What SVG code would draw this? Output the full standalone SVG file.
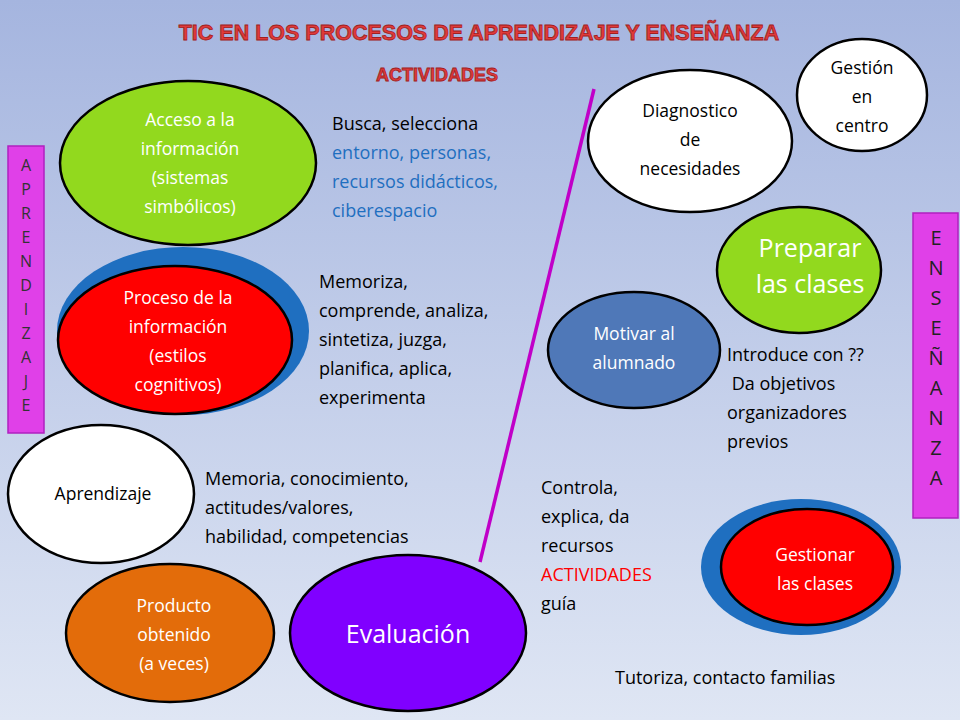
<svg xmlns="http://www.w3.org/2000/svg" width="960" height="720" viewBox="0 0 960 720">
<defs>
<linearGradient id="bg" x1="0" y1="0" x2="0" y2="1"><stop offset="0" stop-color="#a5b5df"/><stop offset="1" stop-color="#dfe6f4"/></linearGradient>
<style>
text{font-family:"Open Sans","DejaVu Sans",sans-serif;}
.n{stroke:#000;stroke-width:2.5;}
.w{fill:#fff;font-size:17.5px;text-anchor:middle;}
.k{fill:#000;font-size:17.5px;text-anchor:middle;}
.t{fill:#000;font-size:18px;}
.b{fill:#1f6fc0;font-size:18px;}
.big{font-size:25px;}
.title{font-family:"Liberation Sans",sans-serif;font-weight:bold;fill:#e03a3a;stroke:#a02020;stroke-width:0.8;text-anchor:middle;}
.bar{fill:#e040e8;stroke:#b020c0;stroke-width:1.5;}
.bl{fill:#333;font-size:16px;text-anchor:middle;}
.br{fill:#222;font-size:20px;text-anchor:middle;}
</style>
</defs>
<rect width="960" height="720" fill="url(#bg)"/>
<text class="title" x="479" y="40" style="font-size:21.5px">TIC EN LOS PROCESOS DE APRENDIZAJE Y ENSEÑANZA</text>
<text class="title" x="437" y="81" style="font-size:18px">ACTIVIDADES</text>
<g id="connectors"><line x1="594" y1="89" x2="480" y2="562" stroke="#c000c8" stroke-width="3.5"/></g>
<g id="bar-aprendizaje"><rect class="bar" x="8" y="146" width="36" height="287"/>
<text class="bl"><tspan x="26" y="171">A</tspan><tspan x="26" y="195">P</tspan><tspan x="26" y="219">R</tspan><tspan x="26" y="243">E</tspan><tspan x="26" y="267">N</tspan><tspan x="26" y="291">D</tspan><tspan x="26" y="315">I</tspan><tspan x="26" y="339">Z</tspan><tspan x="26" y="363">A</tspan><tspan x="26" y="387">J</tspan><tspan x="26" y="411">E</tspan></text></g>
<g id="bar-ensenanza"><rect class="bar" x="913" y="213" width="45" height="305"/>
<text class="br"><tspan x="936" y="245">E</tspan><tspan x="936" y="275">N</tspan><tspan x="936" y="305">S</tspan><tspan x="936" y="335">E</tspan><tspan x="936" y="365">Ñ</tspan><tspan x="936" y="395">A</tspan><tspan x="936" y="425">N</tspan><tspan x="936" y="455">Z</tspan><tspan x="936" y="485">A</tspan></text></g>
<g id="acceso"><ellipse class="n" cx="188" cy="163" rx="128" ry="82" fill="#92d91e"/>
<text class="w"><tspan x="190" y="126">Acceso a la</tspan><tspan x="190" y="155">información</tspan><tspan x="190" y="184">(sistemas</tspan><tspan x="190" y="213">simbólicos)</tspan></text></g>
<g id="proceso"><ellipse cx="183" cy="331" rx="126" ry="84" fill="#1f6fc0"/><ellipse class="n" cx="175" cy="340" rx="117" ry="74" fill="#ff0000"/>
<text class="w"><tspan x="178" y="304">Proceso de la</tspan><tspan x="178" y="333">información</tspan><tspan x="178" y="362">(estilos</tspan><tspan x="178" y="391">cognitivos)</tspan></text></g>
<g id="aprendizaje"><ellipse class="n" cx="101" cy="494" rx="93" ry="69" fill="#fff"/><text class="k" x="103" y="500">Aprendizaje</text></g>
<g id="producto"><ellipse class="n" cx="170" cy="633" rx="104" ry="69" fill="#e36c0a"/>
<text class="w"><tspan x="174" y="612">Producto</tspan><tspan x="174" y="641">obtenido</tspan><tspan x="174" y="670">(a veces)</tspan></text></g>
<g id="evaluacion"><ellipse class="n" cx="408" cy="633" rx="118" ry="78" fill="#8000ff"/><text class="w big" x="408" y="643">Evaluación</text></g>
<g id="diagnostico"><ellipse class="n" cx="690" cy="141" rx="102" ry="71" fill="#fff"/>
<text class="k"><tspan x="690" y="117">Diagnostico</tspan><tspan x="690" y="146">de</tspan><tspan x="690" y="175">necesidades</tspan></text></g>
<g id="gestion-centro"><ellipse class="n" cx="862" cy="95" rx="65" ry="56" fill="#fff"/>
<text class="k"><tspan x="862" y="74">Gestión</tspan><tspan x="862" y="103">en</tspan><tspan x="862" y="132">centro</tspan></text></g>
<g id="preparar"><ellipse class="n" cx="799" cy="270" rx="82" ry="63" fill="#92d91e"/>
<text class="w big"><tspan x="810" y="257">Preparar</tspan><tspan x="810" y="293">las clases</tspan></text></g>
<g id="motivar"><ellipse class="n" cx="634" cy="350" rx="86" ry="58" fill="#4f78b8"/>
<text class="w"><tspan x="634" y="340">Motivar al</tspan><tspan x="634" y="369">alumnado</tspan></text></g>
<g id="gestionar"><ellipse cx="801" cy="567" rx="100" ry="68" fill="#1f6fc0"/><ellipse class="n" cx="807" cy="567" rx="86" ry="58" fill="#ff0000"/>
<text class="w"><tspan x="815" y="561">Gestionar</tspan><tspan x="815" y="590">las clases</tspan></text></g>
<g id="texts">
<text class="t" x="332" y="130">Busca, selecciona</text>
<text class="b"><tspan x="332" y="159">entorno, personas,</tspan><tspan x="332" y="188">recursos didácticos,</tspan><tspan x="332" y="217">ciberespacio</tspan></text>
<text class="t"><tspan x="319" y="288">Memoriza,</tspan><tspan x="319" y="317">comprende, analiza,</tspan><tspan x="319" y="346">sintetiza, juzga,</tspan><tspan x="319" y="375">planifica, aplica,</tspan><tspan x="319" y="404">experimenta</tspan></text>
<text class="t"><tspan x="205" y="485">Memoria, conocimiento,</tspan><tspan x="205" y="514">actitudes/valores,</tspan><tspan x="205" y="543">habilidad, competencias</tspan></text>
<text class="t"><tspan x="727" y="361">Introduce con ??</tspan><tspan x="727" y="390"> Da objetivos</tspan><tspan x="727" y="419">organizadores</tspan><tspan x="727" y="448">previos</tspan></text>
<text class="t"><tspan x="541" y="494">Controla,</tspan><tspan x="541" y="523">explica, da</tspan><tspan x="541" y="552">recursos</tspan><tspan x="541" y="581" fill="#ff0000">ACTIVIDADES</tspan><tspan x="541" y="610">guía</tspan></text>
<text class="t" x="615" y="684">Tutoriza, contacto familias</text>
</g>
</svg>
